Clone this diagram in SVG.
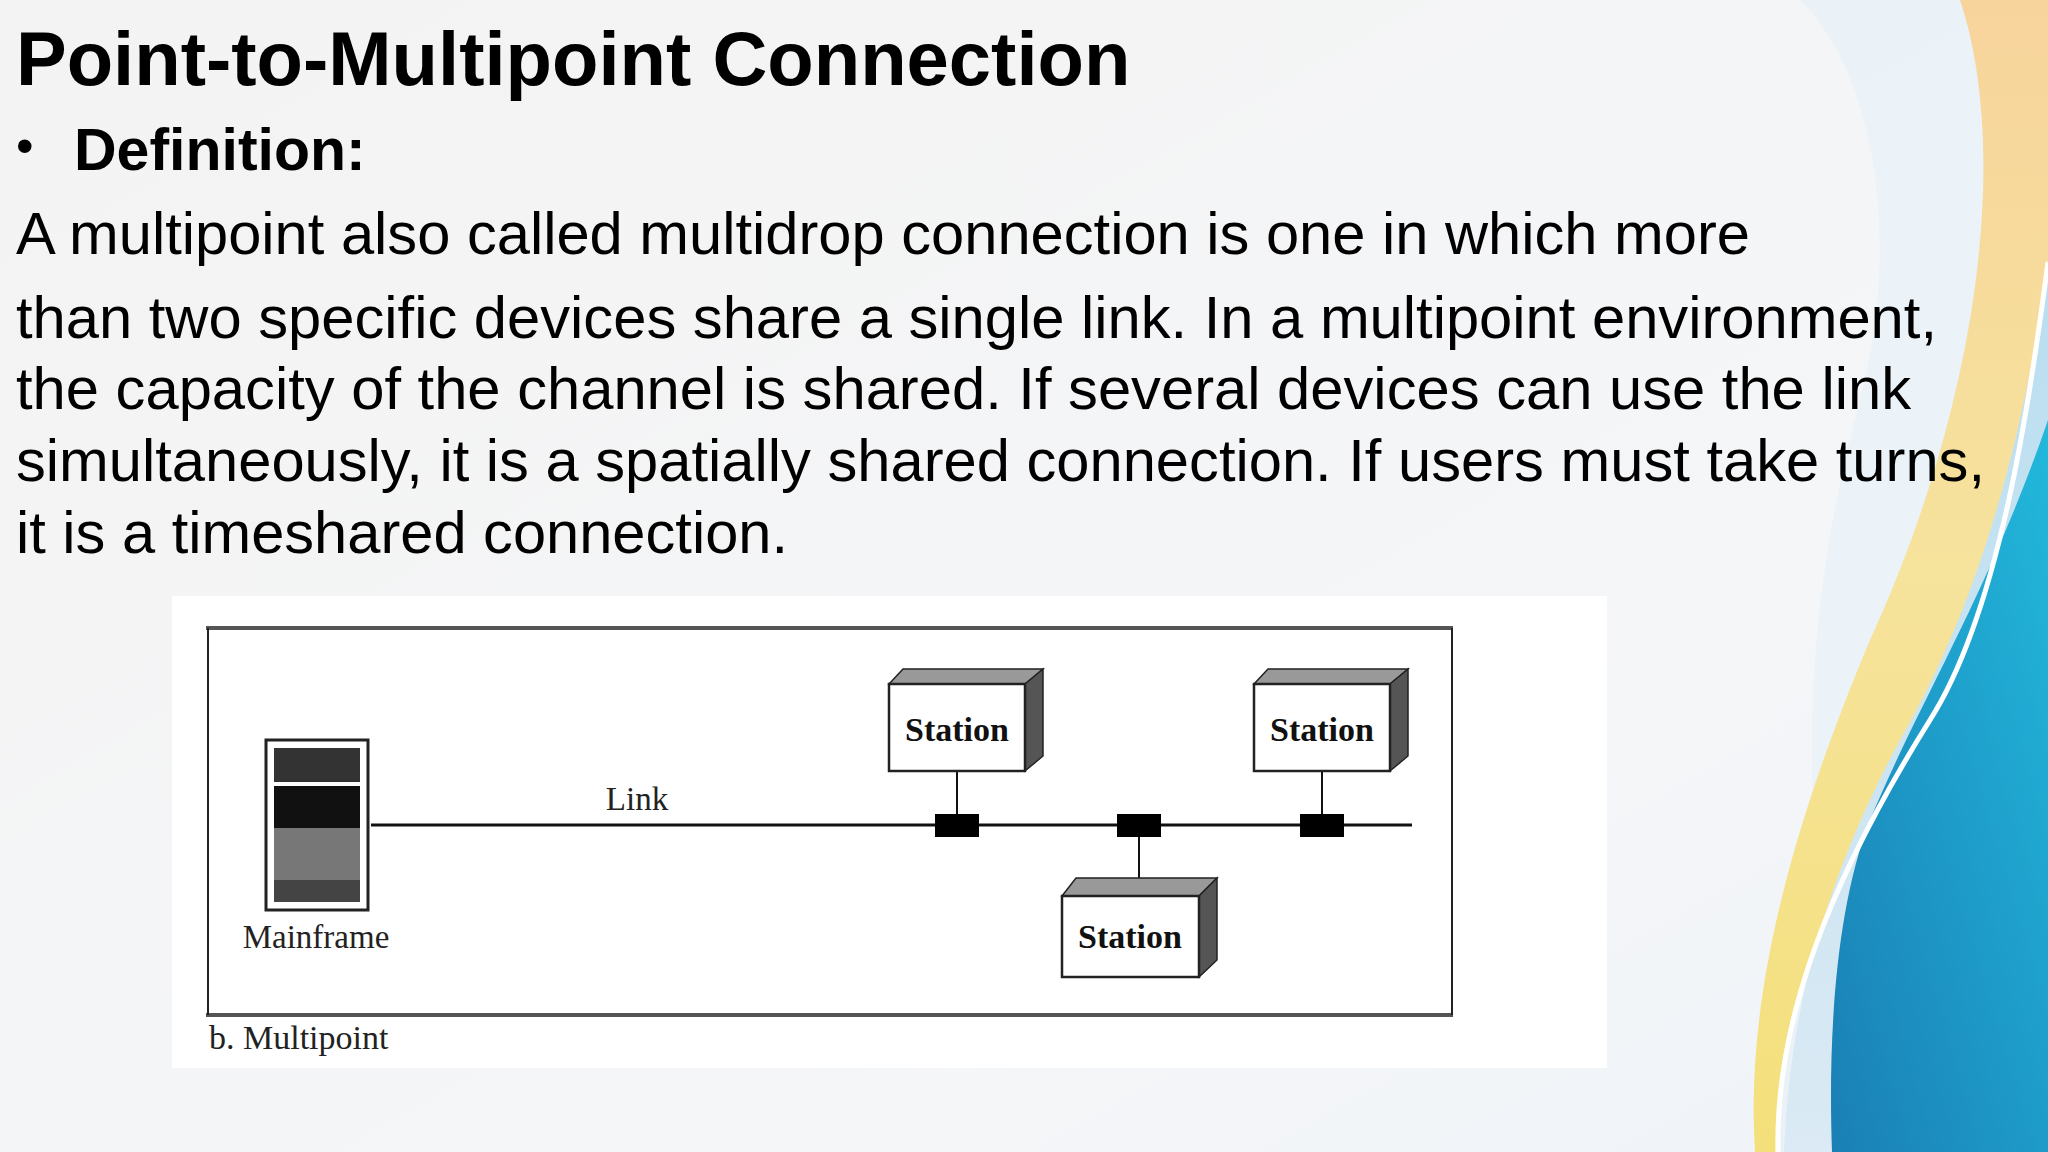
<svg xmlns="http://www.w3.org/2000/svg" width="2048" height="1152" viewBox="0 0 2048 1152">
<defs>
<linearGradient id="bg" x1="0" y1="0" x2="1" y2="1"><stop offset="0" stop-color="#f3f3f3"/><stop offset="0.7" stop-color="#f5f6f8"/><stop offset="1" stop-color="#eef3f8"/></linearGradient>
<linearGradient id="yel" x1="0" y1="0" x2="0" y2="1"><stop offset="0" stop-color="#f7d49c"/><stop offset="0.5" stop-color="#f6e39c"/><stop offset="1" stop-color="#f4e07a"/></linearGradient>
<linearGradient id="blu" x1="0" y1="1" x2="1" y2="0"><stop offset="0" stop-color="#1a7fb5"/><stop offset="1" stop-color="#22b8dc"/></linearGradient>
<linearGradient id="lb" x1="0" y1="0" x2="0" y2="1"><stop offset="0" stop-color="#b9def0"/><stop offset="1" stop-color="#dbeaf4"/></linearGradient>
<style>
.body{font-family:"Liberation Sans",Arial,sans-serif;font-size:60px;fill:#000}
.ser{font-family:"Liberation Serif","Times New Roman",serif;fill:#222}
.st{font-family:"Liberation Serif",serif;font-weight:bold;font-size:34px;text-anchor:middle;fill:#111}
.face{fill:#fff;stroke:#222;stroke-width:2.5}
.top{fill:#999;stroke:#222;stroke-width:1.5}
.side{fill:#555;stroke:#222;stroke-width:1.5}
.tap{fill:#000}
</style>
</defs>
<rect width="2048" height="1152" fill="url(#bg)"/>
<path d="M1800 0 C1880 80 1900 250 1860 400 C1820 550 1800 700 1820 900 L1760 1152 L2048 1152 L2048 0 Z" fill="#e9f1f8" opacity="0.8"/>
<path d="M1960 0 C2010 150 1980 400 1870 640 C1790 830 1745 1000 1755 1152 L1778 1152 C1775 1020 1830 880 1930 720 C2000 610 2030 400 2048 262 L2048 0 Z" fill="url(#yel)"/>
<path d="M2048 270 C2020 450 1980 600 1900 740 C1830 870 1790 1000 1784 1152 L2048 1152 Z" fill="url(#lb)"/>
<path d="M2048 420 C1990 590 1920 700 1870 820 C1835 910 1828 1040 1832 1152 L2048 1152 Z" fill="url(#blu)"/>
<path d="M2048 262 C2030 400 2000 610 1930 720 C1830 880 1775 1020 1778 1152" fill="none" stroke="#fff" stroke-width="5"/>

<text x="16" y="85" font-family="Liberation Sans,Arial,sans-serif" font-weight="bold" font-size="76">Point-to-Multipoint Connection</text>
<text x="16" y="163" font-family="Liberation Sans,Arial,sans-serif" font-size="50">•</text>
<text x="74" y="170" font-family="Liberation Sans,Arial,sans-serif" font-weight="bold" font-size="59">Definition:</text>
<text class="body" x="16" y="254" textLength="1734" lengthAdjust="spacingAndGlyphs">A multipoint also called multidrop connection is one in which more</text>
<text class="body" x="16" y="338" textLength="1921" lengthAdjust="spacingAndGlyphs">than two specific devices share a single link. In a multipoint environment,</text>
<text class="body" x="16" y="409" textLength="1895" lengthAdjust="spacingAndGlyphs">the capacity of the channel is shared. If several devices can use the link</text>
<text class="body" x="16" y="481" textLength="1969" lengthAdjust="spacingAndGlyphs">simultaneously, it is a spatially shared connection. If users must take turns,</text>
<text class="body" x="16" y="553" textLength="772" lengthAdjust="spacingAndGlyphs">it is a timeshared connection.</text>

<g id="figure">
<rect x="172" y="596" width="1435" height="472" fill="#fff"/>
<line x1="206" y1="628" x2="1453" y2="628" stroke="#555" stroke-width="4"/>
<line x1="206" y1="1015" x2="1453" y2="1015" stroke="#555" stroke-width="4"/>
<line x1="208" y1="628" x2="208" y2="1015" stroke="#222" stroke-width="2"/>
<line x1="1452" y1="628" x2="1452" y2="1015" stroke="#222" stroke-width="2"/>
<text class="ser" x="209" y="1049" font-size="34">b. Multipoint</text>
</g>

<g id="connectors" stroke="#111">
<line x1="371" y1="825" x2="1412" y2="825" stroke-width="3"/>
<line x1="957" y1="771" x2="957" y2="814" stroke-width="2"/>
<line x1="1322" y1="771" x2="1322" y2="814" stroke-width="2"/>
<line x1="1139" y1="837" x2="1139" y2="896" stroke-width="2"/>
</g>
<text class="ser" x="637" y="810" font-size="33" text-anchor="middle">Link</text>
<rect class="tap" x="935" y="814" width="44" height="23"/>
<rect class="tap" x="1117" y="814" width="44" height="23"/>
<rect class="tap" x="1300" y="814" width="44" height="23"/>

<g id="mainframe">
<rect x="266" y="740" width="102" height="170" fill="#fff" stroke="#222" stroke-width="3"/>
<rect x="274" y="748" width="86" height="34" fill="#333"/>
<rect x="274" y="786" width="86" height="42" fill="#111"/>
<rect x="274" y="828" width="86" height="52" fill="#777"/>
<rect x="274" y="880" width="86" height="22" fill="#444"/>
<text class="ser" x="316" y="948" font-size="33" text-anchor="middle">Mainframe</text>
</g>

<g id="station1">
<polygon class="top" points="889,684 903,669 1043,669 1025,684"/>
<polygon class="side" points="1025,684 1043,669 1043,756 1025,771"/>
<rect class="face" x="889" y="684" width="136" height="87"/>
<text class="st" x="957" y="741">Station</text>
</g>
<g id="station2">
<polygon class="top" points="1254,684 1268,669 1408,669 1390,684"/>
<polygon class="side" points="1390,684 1408,669 1408,756 1390,771"/>
<rect class="face" x="1254" y="684" width="136" height="87"/>
<text class="st" x="1322" y="741">Station</text>
</g>
<g id="station3">
<polygon class="top" points="1062,896 1076,878 1217,878 1199,896"/>
<polygon class="side" points="1199,896 1217,878 1217,960 1199,977"/>
<rect class="face" x="1062" y="896" width="137" height="81"/>
<text class="st" x="1130" y="948">Station</text>
</g>
</svg>
